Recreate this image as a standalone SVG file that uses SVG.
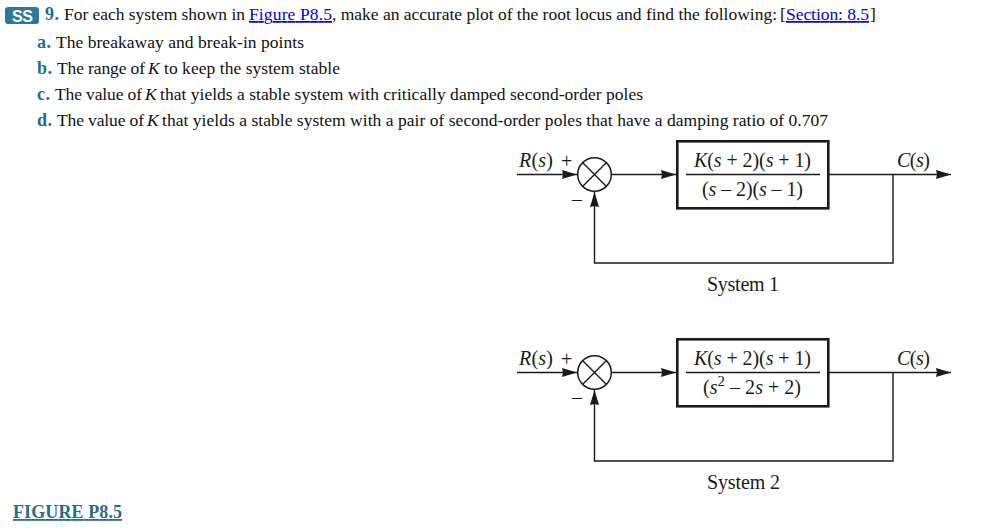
<svg xmlns="http://www.w3.org/2000/svg" width="981" height="529" viewBox="0 0 981 529">
<style>
text{font-family:"Liberation Serif","Times New Roman",serif;fill:#000}
.q{font-size:17.500px;fill:#111}
.lab{font-size:18px;font-weight:700;fill:#1a6f96}
.lnk{fill:#0000ee;text-decoration:underline}
.i{font-style:italic}
.d{font-size:20px;fill:#1a1a1a}
.w{fill:none;stroke:#1a1a1a;stroke-width:1.4}
.box{fill:#fff;stroke:#1a1a1a;stroke-width:2.6}
.sum{fill:#fff;stroke:#1a1a1a;stroke-width:1.5}
</style>
<defs>
<marker id="a" markerUnits="userSpaceOnUse" markerWidth="16" markerHeight="10" refX="15" refY="4.500" orient="auto">
<path d="M0 0L15 4.500L0 9L1 4.500Z" fill="#1a1a1a"/>
</marker>
</defs>
<rect width="981" height="529" fill="#fff"/>
<g id="question">
<rect x="5" y="7" width="34" height="17" rx="3" fill="#2b7a9e"/>
<text x="12" y="21.500" textLength="21" style="font-family:'Liberation Sans',sans-serif;font-size:16px;font-weight:700;fill:#fff">SS</text>
<text class="lab" x="45" y="20" textLength="14">9.</text>
<text class="q" x="64" y="20" textLength="181">For each system shown in</text>
<text class="q lnk" x="249" y="20" textLength="83">Figure P8.5</text>
<text class="q" x="332" y="20" textLength="445">, make an accurate plot of the root locus and find the following:</text>
<text class="q" x="780" y="20">[</text>
<text class="q lnk" x="786" y="20" textLength="83">Section: 8.5</text>
<text class="q" x="870" y="20">]</text>
<text class="lab" x="37" y="48" textLength="14">a.</text>
<text class="q" x="56" y="48" textLength="248">The breakaway and break-in points</text>
<text class="lab" x="37" y="74" textLength="15">b.</text>
<text class="q" x="57" y="74" textLength="88">The range of</text>
<text class="q i" x="148" y="74" textLength="12">K</text>
<text class="q" x="164" y="74" textLength="176">to keep the system stable</text>
<text class="lab" x="37" y="100" textLength="13">c.</text>
<text class="q" x="55" y="100" textLength="87">The value of</text>
<text class="q i" x="145" y="100" textLength="12">K</text>
<text class="q" x="160" y="100" textLength="483">that yields a stable system with critically damped second-order poles</text>
<text class="lab" x="37" y="126" textLength="15">d.</text>
<text class="q" x="57" y="126" textLength="87">The value of</text>
<text class="q i" x="147" y="126" textLength="12">K</text>
<text class="q" x="162" y="126" textLength="666">that yields a stable system with a pair of second-order poles that have a damping ratio of 0.707</text>
</g>
<g id="connectors">
<path class="w" d="M517 174.500H577" marker-end="url(#a)"/>
<path class="w" d="M611 174.500H676" marker-end="url(#a)"/>
<path class="w" d="M829 174.500H951" marker-end="url(#a)"/>
<path class="w" d="M893 174.500V263H594.500V192" marker-end="url(#a)"/>
<path class="w" d="M517 372.500H577" marker-end="url(#a)"/>
<path class="w" d="M611 372.500H676" marker-end="url(#a)"/>
<path class="w" d="M829 372.500H951" marker-end="url(#a)"/>
<path class="w" d="M893 372.500V461H594.500V390" marker-end="url(#a)"/>
</g>
<g id="sum1">
<circle class="sum" cx="594.500" cy="174.500" r="16.800"/>
<path class="w" d="M583 163L606 186M606 163L583 186"/>
<text class="d" x="561" y="168">+</text>
<text class="d" x="572" y="206">–</text>
</g>
<g id="block1">
<rect class="box" x="677.300" y="141.300" width="151" height="67"/>
<path class="w" d="M686 174.500H820"/>
<text class="d" x="694" y="167" textLength="117"><tspan class="i">K</tspan>(<tspan class="i">s</tspan> + 2)(<tspan class="i">s</tspan> + 1)</text>
<text class="d" x="702" y="196" textLength="101">(<tspan class="i">s</tspan> – 2)(<tspan class="i">s</tspan> – 1)</text>
</g>
<g id="labels1">
<text class="d" x="519" y="166.500" textLength="34"><tspan class="i">R</tspan>(<tspan class="i">s</tspan>)</text>
<text class="d" x="897" y="166.500" textLength="33"><tspan class="i">C</tspan>(<tspan class="i">s</tspan>)</text>
<text class="d" x="707" y="291" textLength="72">System 1</text>
</g>
<g id="sum2">
<circle class="sum" cx="594.500" cy="372.500" r="16.800"/>
<path class="w" d="M583 361L606 384M606 361L583 384"/>
<text class="d" x="561" y="366">+</text>
<text class="d" x="572" y="404">–</text>
</g>
<g id="block2">
<rect class="box" x="677.300" y="339.300" width="151" height="67"/>
<path class="w" d="M686 372.500H820"/>
<text class="d" x="694" y="365" textLength="117"><tspan class="i">K</tspan>(<tspan class="i">s</tspan> + 2)(<tspan class="i">s</tspan> + 1)</text>
<text class="d" x="703" y="394" textLength="98">(<tspan class="i">s</tspan><tspan dy="-8" style="font-size:15px">2</tspan><tspan dy="8"> – 2</tspan><tspan class="i">s</tspan> + 2)</text>
</g>
<g id="labels2">
<text class="d" x="519" y="364.500" textLength="34"><tspan class="i">R</tspan>(<tspan class="i">s</tspan>)</text>
<text class="d" x="897" y="364.500" textLength="33"><tspan class="i">C</tspan>(<tspan class="i">s</tspan>)</text>
<text class="d" x="707" y="489" textLength="73">System 2</text>
</g>
<g id="caption">
<text x="13" y="518" textLength="109" style="font-size:18px;font-weight:700;fill:#1f7087;text-decoration:underline">FIGURE P8.5</text>
</g>
</svg>
